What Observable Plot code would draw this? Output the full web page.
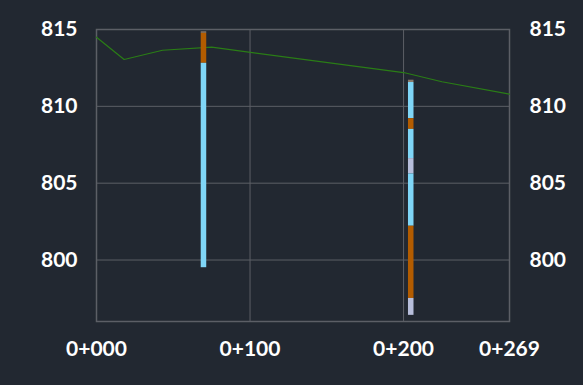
<!DOCTYPE html>
<html>
<head>
<meta charset="utf-8">
<script src="https://cdn.jsdelivr.net/npm/d3@7"></script>
<script src="https://cdn.jsdelivr.net/npm/@observablehq/plot@0.6"></script>
<style>
  html, body { margin: 0; padding: 0; background: #222831; }
  #chart { width: 583px; height: 385px; }
</style>
</head>
<body>
<div id="chart"></div>
<script>
// Ground surface profile (chainage m, elevation m)
const groundChainage = [0, 18, 43, 75, 200, 225, 269];
const groundElevation = [814.5, 813.05, 813.65, 813.85, 812.2, 811.6, 810.8];

// Borehole 1
const bh1Chainage = 70;
const bh1Tops = [814.85, 814.75, 812.8];
const bh1Bottoms = [814.75, 812.8, 799.5];
const bh1Soils = ["cap", "clay", "sand"];

// Borehole 2
const bh2Chainage = 205;
const bh2Tops = [811.7, 811.55, 809.2, 808.5, 806.6, 805.6, 802.2, 797.5];
const bh2Bottoms = [811.55, 809.2, 808.5, 806.6, 805.6, 802.2, 797.5, 796.4];
const bh2Soils = ["cap", "sand", "clay", "sand", "rock", "sand", "clay", "rock"];

// Axis ticks
const xTicks = [0, 100, 200, 269];
const xTickLabels = ["0+000", "0+100", "0+200", "0+269"];
const yTicks = [800, 805, 810, 815];

const ground = groundChainage.map((c, i) => ({c, e: groundElevation[i]}));
const layers = [
  ...bh1Tops.map((t, i) => ({c: bh1Chainage, top: t, bottom: bh1Bottoms[i], soil: bh1Soils[i]})),
  ...bh2Tops.map((t, i) => ({c: bh2Chainage, top: t, bottom: bh2Bottoms[i], soil: bh2Soils[i]}))
];
const halfW = 1.8;
const soilColor = {cap: "#8a7a6a", clay: "#b35c00", sand: "#7fd6f7", rock: "#b7bedb"};

const font = "Lato, 'Open Sans', sans-serif";
const chart = Plot.plot({
  width: 583,
  height: 385,
  marginLeft: 96,
  marginRight: 74,
  marginTop: 29,
  marginBottom: 64,
  style: {background: "#222831", color: "#ffffff", fontFamily: font},
  x: {domain: [0, 269]},
  y: {domain: [796, 815]},
  marks: [
    Plot.ruleY([800, 805, 810], {stroke: "#5c5f66", strokeWidth: 1}),
    Plot.ruleX([100, 200], {stroke: "#5c5f66", strokeWidth: 1}),
    Plot.frame({stroke: "#5c5f66", strokeWidth: 1.5}),
    Plot.line(ground, {x: "c", y: "e", stroke: "#2a7d16", strokeWidth: 1.2}),
    Plot.rect(layers, {
      x1: d => d.c - halfW, x2: d => d.c + halfW,
      y1: "bottom", y2: "top",
      fill: d => soilColor[d.soil]
    }),
    Plot.axisY(yTicks, {anchor: "left", tickSize: 0, tickPadding: 19, fontSize: 21, fontWeight: "bold", fill: "#ffffff", label: null}),
    Plot.axisY(yTicks, {anchor: "right", tickSize: 0, tickPadding: 20, fontSize: 21, fontWeight: "bold", fill: "#ffffff", label: null}),
    Plot.axisX(xTicks, {anchor: "bottom", tickSize: 0, tickPadding: 20, fontSize: 21, fontWeight: "bold", fill: "#ffffff", label: null,
      tickFormat: (d) => xTickLabels[xTicks.indexOf(d)]})
  ]
});
document.getElementById("chart").appendChild(chart);
</script>
</body>
</html>
